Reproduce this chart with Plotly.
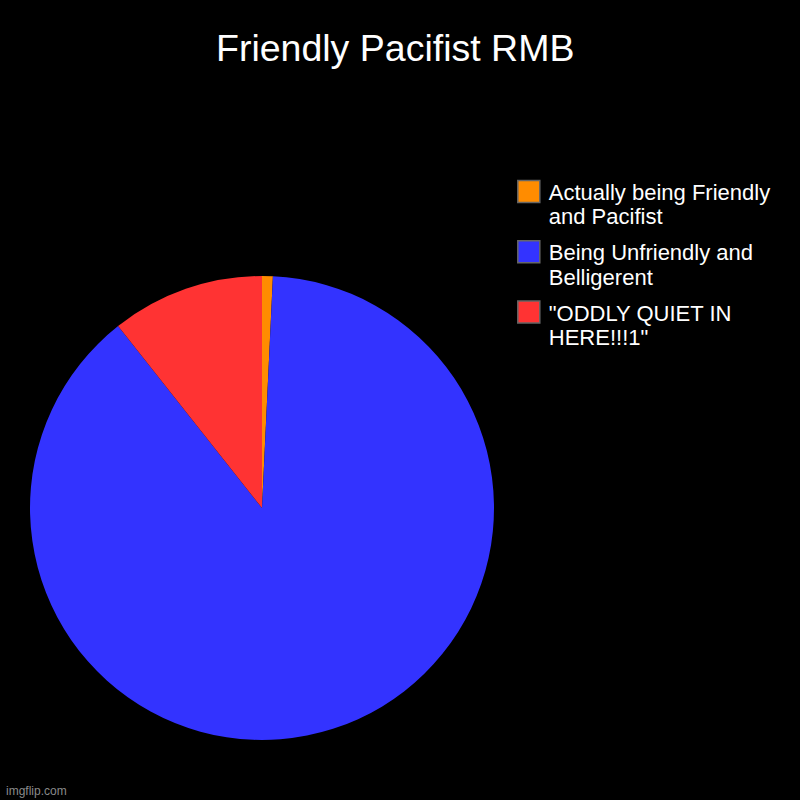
import plotly.graph_objects as go

labels = ["Actually being Friendly<br>and Pacifist",
          "Being Unfriendly and<br>Belligerent",
          "\"ODDLY QUIET IN<br>HERE!!!1\""]
values = [0.75, 88.6, 10.65]
colors = ["#ff8c00", "#3333ff", "#ff3333"]

font = "Arial, Liberation Sans, sans-serif"

fig = go.Figure(go.Pie(
    labels=labels,
    values=values,
    sort=False,
    direction="clockwise",
    rotation=0,
    textinfo="none",
    hoverinfo="label+percent",
    marker=dict(colors=colors, line=dict(width=0)),
    domain=dict(x=[0.0375, 0.6175], y=[0.075, 0.655]),
))

fig.update_layout(
    width=800, height=800,
    paper_bgcolor="black", plot_bgcolor="black",
    margin=dict(l=0, r=0, t=0, b=0),
    font=dict(family=font, color="white", size=22),
    title=dict(text="Friendly Pacifist RMB", x=0.494, xanchor="center",
               y=0.94, yanchor="middle", font=dict(size=37.5, color="white")),
    legend=dict(x=0.636, y=0.7865, xanchor="left", yanchor="top", valign="top",
                font=dict(size=22, color="white"), bgcolor="rgba(0,0,0,0)",
                traceorder="normal"),
    annotations=[dict(text="imgflip.com", x=0.005, y=0.011, xref="paper", yref="paper",
                      xanchor="left", yanchor="middle", showarrow=False,
                      font=dict(size=12, color="#8a8a8a"))],
)

# drop the page margin, enlarge the legend swatches and tighten the legend lines
post = """
document.body.style.margin = '0';
var gd = document.getElementById('{plot_id}');
function tweak() {
  gd.querySelectorAll('.legendpoints path').forEach(function (p) {
    p.setAttribute('d', 'M11,11H-11V-11H11Z');
    p.style.stroke = '#666666';
    p.style.strokeWidth = '1.5px';
  });
  gd.querySelectorAll('.legendtext tspan.line').forEach(function (t) {
    var dy = t.getAttribute('dy');
    if (!dy || t.dataset.done) return;
    t.dataset.done = '1';
    t.setAttribute('dy', (parseFloat(dy) * 1.1 / 1.3) + 'em');
  });
}
tweak();
gd.on('plotly_afterplot', tweak);
"""

fig.write_html("out.html", post_script=post, config={"displayModeBar": False})
